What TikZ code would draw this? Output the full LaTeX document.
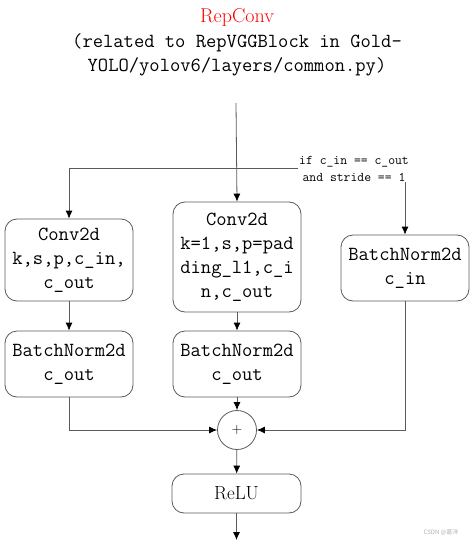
\documentclass[tikz,border=0pt]{standalone}
\usepackage{fontspec}
\newfontfamily\cjk{Noto Sans CJK SC}
\usetikzlibrary{arrows.meta}
\definecolor{edge}{HTML}{5A5A5A}
\begin{document}
\begin{tikzpicture}[x=1pt,y=-1pt,
  box/.style={draw=edge,line width=0.8pt,rounded corners=12pt,minimum width=128pt,inner sep=0pt,align=center,
    font=\ttfamily\fontsize{20}{24}\selectfont},
  arr/.style={draw=edge,line width=0.8pt,-{Latex[length=8pt,width=7pt,color=black]}},
  ln/.style={draw=edge,line width=0.8pt}]
\useasboundingbox (0,0) rectangle (474,540);
\node[text=red,font=\rmfamily\fontsize{20}{22}\selectfont] (title) at (237,17) {RepConv};
\node[align=center,font=\ttfamily\fontsize{20}{24}\selectfont] (sub) at (237,55) {(related to RepVGGBlock in Gold-\\YOLO/yolov6/layers/common.py)};
\coordinate (in) at (236,103);
\node[align=center,inner sep=1pt,font=\ttfamily\fontsize{13.3}{17}\selectfont] (cond) at (354,168.5) {if c\_in == c\_out\\and stride == 1};
\node[box,minimum height=82pt] (lconv) at (69,260) {Conv2d\\k,s,p,c\_in,\\c\_out};
\node[box,minimum height=110pt] (mconv) at (237,257) {Conv2d\\k=1,s,p=pad\\ding\_l1,c\_i\\n,c\_out};
\node[box,minimum height=66pt] (rbn) at (405,268) {BatchNorm2d\\c\_in};
\node[box,minimum height=66pt] (lbn) at (69,364) {BatchNorm2d\\c\_out};
\node[box,minimum height=66pt] (mbn) at (237,364) {BatchNorm2d\\c\_out};
\node[draw=edge,line width=0.8pt,circle,minimum size=39pt,inner sep=0pt,font=\rmfamily\fontsize{14}{14}\selectfont] (plus) at (237,430) {+};
\node[box,minimum width=129pt,minimum height=39pt,font=\rmfamily\fontsize{19}{22}\selectfont] (relu) at (236.5,493.5) {ReLU};
\coordinate (out) at (236.5,540);
\node[text=black!30,font=\cjk\fontsize{6}{7}\selectfont] (wm) at (441,532) {CSDN @葛洋};
\draw[arr] (in) -- (mconv.north);
\draw[arr] (cond.west) -| (lconv.north);
\draw[arr] (cond.south -| rbn.north) -- (rbn.north);
\draw[arr] (lconv) -- (lbn);
\draw[arr] (mconv) -- (mbn);
\draw[arr] (lbn.south) |- (plus.west);
\draw[arr] (rbn.south) |- (plus.east);
\draw[arr] (mbn) -- (plus);
\draw[arr] (plus) -- (relu);
\draw[arr] (relu) -- (out);
\end{tikzpicture}
\end{document}
